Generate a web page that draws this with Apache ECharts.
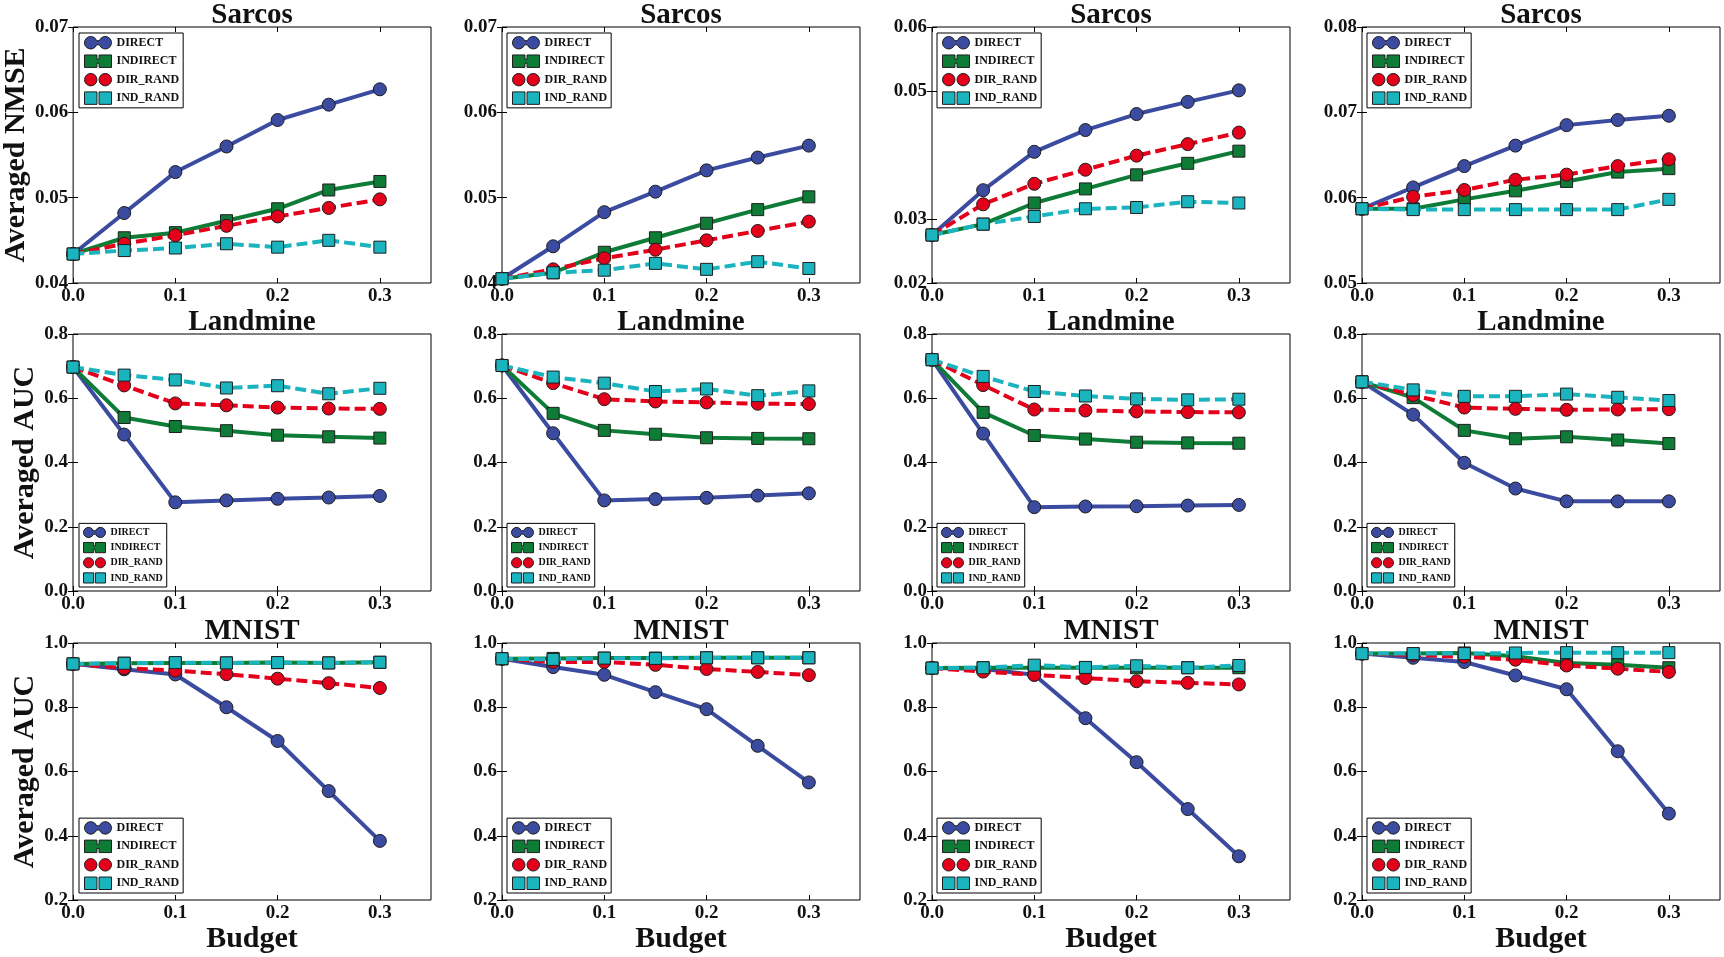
<!DOCTYPE html>
<html>
<head>
<meta charset="utf-8">
<script src="https://cdn.jsdelivr.net/npm/echarts@6/dist/echarts.min.js"></script>
<style>
html,body{margin:0;padding:0;background:#fff;}
#chart{width:1724px;height:957px;}
</style>
</head>
<body>
<div id="chart"></div>
<script>
// ---------------- data ----------------
const budget = [0, 0.05, 0.1, 0.15, 0.2, 0.25, 0.3];
const methods = ['DIRECT', 'INDIRECT', 'DIR_RAND', 'IND_RAND'];
const rowTitles = ['Sarcos', 'Landmine', 'MNIST'];
const rowYNames = ['Averaged NMSE', 'Averaged AUC', 'Averaged AUC'];
const xTicks = [0, 0.1, 0.2, 0.3];
const xTickLabels = ['0.0', '0.1', '0.2', '0.3'];

// y tick values per panel (row-major, 12 panels)
const yTicksSarcos1 = [0.04, 0.05, 0.06, 0.07];
const yTicksSarcos2 = [0.04, 0.05, 0.06, 0.07];
const yTicksSarcos3 = [0.02, 0.03, 0.05, 0.06];
const yTicksSarcos4 = [0.05, 0.06, 0.07, 0.08];
const yTicksLandmine = [0, 0.2, 0.4, 0.6, 0.8];
const yTicksMnist = [0.2, 0.4, 0.6, 0.8, 1.0];

// Sarcos (Averaged NMSE)
const sarcos1Direct   = [0.0434, 0.0482, 0.0530, 0.0560, 0.0591, 0.0609, 0.0627];
const sarcos1Indirect = [0.0434, 0.0453, 0.0459, 0.0473, 0.0487, 0.0509, 0.0519];
const sarcos1DirRand  = [0.0434, 0.0446, 0.0456, 0.0467, 0.0478, 0.0488, 0.0498];
const sarcos1IndRand  = [0.0434, 0.0438, 0.0441, 0.0446, 0.0442, 0.0450, 0.0442];

const sarcos2Direct   = [0.0405, 0.0443, 0.0483, 0.0507, 0.0532, 0.0547, 0.0561];
const sarcos2Indirect = [0.0405, 0.0412, 0.0436, 0.0453, 0.0470, 0.0486, 0.0501];
const sarcos2DirRand  = [0.0405, 0.0416, 0.0429, 0.0439, 0.0450, 0.0461, 0.0472];
const sarcos2IndRand  = [0.0405, 0.0412, 0.0415, 0.0423, 0.0416, 0.0425, 0.0417];

const sarcos3Direct   = [0.0275, 0.0345, 0.0405, 0.0439, 0.0464, 0.0483, 0.0501];
const sarcos3Indirect = [0.0275, 0.0292, 0.0325, 0.0347, 0.0369, 0.0387, 0.0406];
const sarcos3DirRand  = [0.0275, 0.0323, 0.0355, 0.0377, 0.0399, 0.0417, 0.0435];
const sarcos3IndRand  = [0.0275, 0.0292, 0.0304, 0.0316, 0.0318, 0.0327, 0.0325];

const sarcos4Direct   = [0.0587, 0.0612, 0.0637, 0.0661, 0.0685, 0.0691, 0.0696];
const sarcos4Indirect = [0.0587, 0.0587, 0.0598, 0.0608, 0.0619, 0.0630, 0.0634];
const sarcos4DirRand  = [0.0587, 0.0601, 0.0609, 0.0621, 0.0627, 0.0637, 0.0645];
const sarcos4IndRand  = [0.0587, 0.0586, 0.0586, 0.0586, 0.0586, 0.0586, 0.0598];

// Landmine (Averaged AUC)
const landmine1Direct   = [0.697, 0.487, 0.276, 0.282, 0.287, 0.291, 0.296];
const landmine1Indirect = [0.697, 0.540, 0.512, 0.499, 0.485, 0.480, 0.476];
const landmine1DirRand  = [0.697, 0.640, 0.584, 0.578, 0.571, 0.568, 0.567];
const landmine1IndRand  = [0.697, 0.672, 0.657, 0.632, 0.639, 0.614, 0.631];

const landmine2Direct   = [0.702, 0.491, 0.282, 0.286, 0.290, 0.297, 0.304];
const landmine2Indirect = [0.702, 0.553, 0.500, 0.488, 0.477, 0.475, 0.474];
const landmine2DirRand  = [0.702, 0.647, 0.597, 0.590, 0.587, 0.583, 0.582];
const landmine2IndRand  = [0.702, 0.666, 0.647, 0.621, 0.629, 0.608, 0.623];

const landmine3Direct   = [0.720, 0.490, 0.261, 0.263, 0.264, 0.266, 0.268];
const landmine3Indirect = [0.720, 0.556, 0.484, 0.473, 0.463, 0.461, 0.460];
const landmine3DirRand  = [0.720, 0.641, 0.565, 0.562, 0.559, 0.557, 0.556];
const landmine3IndRand  = [0.720, 0.668, 0.621, 0.607, 0.598, 0.595, 0.597];

const landmine4Direct   = [0.651, 0.549, 0.399, 0.319, 0.279, 0.279, 0.279];
const landmine4Indirect = [0.651, 0.602, 0.500, 0.474, 0.480, 0.470, 0.459];
const landmine4DirRand  = [0.651, 0.610, 0.571, 0.567, 0.564, 0.565, 0.566];
const landmine4IndRand  = [0.651, 0.626, 0.606, 0.606, 0.613, 0.603, 0.593];

// MNIST (Averaged AUC)
const mnist1Direct   = [0.935, 0.918, 0.902, 0.800, 0.695, 0.539, 0.384];
const mnist1Indirect = [0.935, 0.937, 0.938, 0.938, 0.939, 0.938, 0.940];
const mnist1DirRand  = [0.935, 0.922, 0.914, 0.903, 0.889, 0.875, 0.860];
const mnist1IndRand  = [0.935, 0.937, 0.939, 0.938, 0.939, 0.938, 0.940];

const mnist2Direct   = [0.951, 0.925, 0.901, 0.847, 0.794, 0.680, 0.566];
const mnist2Indirect = [0.951, 0.952, 0.953, 0.953, 0.954, 0.954, 0.954];
const mnist2DirRand  = [0.951, 0.941, 0.941, 0.932, 0.919, 0.910, 0.900];
const mnist2IndRand  = [0.951, 0.949, 0.953, 0.952, 0.954, 0.954, 0.954];

const mnist3Direct   = [0.922, 0.919, 0.901, 0.766, 0.629, 0.483, 0.336];
const mnist3Indirect = [0.922, 0.923, 0.923, 0.923, 0.923, 0.923, 0.923];
const mnist3DirRand  = [0.922, 0.911, 0.901, 0.891, 0.881, 0.876, 0.871];
const mnist3IndRand  = [0.922, 0.923, 0.931, 0.924, 0.929, 0.923, 0.930];

const mnist4Direct   = [0.967, 0.954, 0.941, 0.899, 0.856, 0.663, 0.469];
const mnist4Indirect = [0.967, 0.967, 0.969, 0.959, 0.938, 0.932, 0.923];
const mnist4DirRand  = [0.967, 0.963, 0.957, 0.948, 0.930, 0.920, 0.910];
const mnist4IndRand  = [0.967, 0.967, 0.967, 0.969, 0.970, 0.970, 0.970];

// ---------------- assembly ----------------
const panels = [
  {row:0, col:0, yTicks:yTicksSarcos1, dec:2, series:[sarcos1Direct, sarcos1Indirect, sarcos1DirRand, sarcos1IndRand]},
  {row:0, col:1, yTicks:yTicksSarcos2, dec:2, series:[sarcos2Direct, sarcos2Indirect, sarcos2DirRand, sarcos2IndRand]},
  {row:0, col:2, yTicks:yTicksSarcos3, dec:2, yMin:0.02, yMax:0.06, series:[sarcos3Direct, sarcos3Indirect, sarcos3DirRand, sarcos3IndRand]},
  {row:0, col:3, yTicks:yTicksSarcos4, dec:2, series:[sarcos4Direct, sarcos4Indirect, sarcos4DirRand, sarcos4IndRand]},
  {row:1, col:0, yTicks:yTicksLandmine, dec:1, series:[landmine1Direct, landmine1Indirect, landmine1DirRand, landmine1IndRand]},
  {row:1, col:1, yTicks:yTicksLandmine, dec:1, series:[landmine2Direct, landmine2Indirect, landmine2DirRand, landmine2IndRand]},
  {row:1, col:2, yTicks:yTicksLandmine, dec:1, series:[landmine3Direct, landmine3Indirect, landmine3DirRand, landmine3IndRand]},
  {row:1, col:3, yTicks:yTicksLandmine, dec:1, series:[landmine4Direct, landmine4Indirect, landmine4DirRand, landmine4IndRand]},
  {row:2, col:0, yTicks:yTicksMnist, dec:1, series:[mnist1Direct, mnist1Indirect, mnist1DirRand, mnist1IndRand]},
  {row:2, col:1, yTicks:yTicksMnist, dec:1, series:[mnist2Direct, mnist2Indirect, mnist2DirRand, mnist2IndRand]},
  {row:2, col:2, yTicks:yTicksMnist, dec:1, series:[mnist3Direct, mnist3Indirect, mnist3DirRand, mnist3IndRand]},
  {row:2, col:3, yTicks:yTicksMnist, dec:1, series:[mnist4Direct, mnist4Indirect, mnist4DirRand, mnist4IndRand]}
];

const colors = ['#3b4ba0', '#0e7c36', '#e4001b', '#1ab4bf'];
const SERIF = 'Liberation Serif';
const colLeft = [73, 502, 932, 1362];
const plotW = 358;
const rowTop = [25, 334, 643];
const rowH = [258, 257, 257];

// legend icons: two markers (joined for solid lines)
const iconCircleSolid = 'path://M12.157,4.5L14.843,4.5A6,6,0,1,1,14.843,8.5L12.157,8.5A6,6,0,1,1,12.157,4.5Z';
const iconRectSolid = 'path://M0.5,0.5H12.5V4.5H14.5V0.5H26.5V12.5H14.5V8.5H12.5V12.5H0.5Z';
const iconCircleDash = 'path://M0.5,6.5A6,6,0,1,1,12.5,6.5A6,6,0,1,1,0.5,6.5ZM14.5,6.5A6,6,0,1,1,26.5,6.5A6,6,0,1,1,14.5,6.5Z';
const iconRectDash = 'path://M0.5,0.5H12.5V12.5H0.5ZM14.5,0.5H26.5V12.5H14.5Z';
const icons = [iconCircleSolid, iconRectSolid, iconCircleDash, iconRectDash];

const grid = [], xAxis = [], yAxis = [], series = [], legend = [];
const labelFont = {fontFamily: SERIF, fontWeight: 'bold', fontSize: 19, color: '#111'};
const nameFont = {fontFamily: SERIF, fontWeight: 'bold', fontSize: 30, color: '#111'};
const tick = {show: true, inside: true, length: 5, lineStyle: {color: '#000', width: 1}};

panels.forEach((p, i) => {
  const left = colLeft[p.col], top = rowTop[p.row], h = rowH[p.row];
  grid.push({left: left, top: top, width: plotW, height: h, show: true,
    borderColor: '#000', borderWidth: 1, backgroundColor: '#fff'});
  const yMin = p.yMin !== undefined ? p.yMin : p.yTicks[0];
  const yMax = p.yMax !== undefined ? p.yMax : p.yTicks[p.yTicks.length - 1];
  // bottom x
  xAxis.push({gridIndex: i, type: 'value', position: 'bottom', min: 0, max: 0.35,
    axisLine: {show: false}, splitLine: {show: false},
    axisTick: Object.assign({customValues: xTicks}, tick),
    axisLabel: Object.assign({customValues: xTicks, margin: 4,
      formatter: v => xTickLabels[xTicks.findIndex(t => Math.abs(t - v) < 1e-9)] || ''}, labelFont),
    name: p.row === 2 ? 'Budget' : '', nameLocation: 'middle', nameGap: 24, nameTextStyle: nameFont});
  // top x (ticks + panel title)
  xAxis.push({gridIndex: i, type: 'value', position: 'top', min: 0, max: 0.35,
    axisLine: {show: false}, splitLine: {show: false},
    axisTick: Object.assign({customValues: xTicks}, tick),
    axisLabel: {show: false},
    name: rowTitles[p.row], nameLocation: 'middle', nameGap: -3,
    nameTextStyle: {fontFamily: SERIF, fontWeight: 'bold', fontSize: 29, color: '#111'}});
  // left y
  yAxis.push({gridIndex: i, type: 'value', position: 'left', min: yMin, max: yMax,
    axisLine: {show: false}, splitLine: {show: false},
    axisTick: Object.assign({customValues: p.yTicks}, tick),
    axisLabel: Object.assign({customValues: p.yTicks, margin: 5,
      formatter: v => v.toFixed(p.dec)}, labelFont),
    name: p.col === 0 ? rowYNames[p.row] : '', nameLocation: 'middle',
    nameGap: p.row === 0 ? 42 : 32, nameTextStyle: nameFont});
  // right y (ticks only)
  yAxis.push({gridIndex: i, type: 'value', position: 'right', min: yMin, max: yMax,
    axisLine: {show: false}, splitLine: {show: false},
    axisTick: Object.assign({customValues: p.yTicks}, tick),
    axisLabel: {show: false}});

  methods.forEach((m, k) => {
    const vals = p.series[k];
    series.push({
      type: 'line', name: m, xAxisIndex: 2 * i, yAxisIndex: 2 * i, z: 2 + k,
      data: budget.map((b, j) => [b, vals[j]]),
      symbol: k % 2 === 0 ? 'circle' : 'rect',
      symbolSize: k % 2 === 0 ? 13 : 12,
      showSymbol: true,
      lineStyle: {color: colors[k], width: 4, type: k < 2 ? 'solid' : [11, 5]},
      itemStyle: {color: colors[k], borderColor: '#1e1e1e', borderWidth: 1},
      emphasis: {disabled: true},
      silent: true
    });
  });

  const small = p.row === 1;
  const lg = {
    orient: 'vertical', align: 'left', selectedMode: false,
    left: left + (p.col === 0 ? 6 : 5),
    itemWidth: small ? 22 : 27, itemHeight: small ? 11 : 13,
    itemGap: small ? 4 : 5,
    padding: small ? [3.5, 4, 3.5, 4] : [3, 4, 3, 5],
    backgroundColor: '#fff', borderColor: '#000', borderWidth: 1, borderRadius: 0,
    itemStyle: {borderColor: '#1e1e1e', borderWidth: 1},
    textStyle: {fontFamily: SERIF, fontWeight: 'bold', fontSize: small ? 10 : 12, color: '#111'},
    data: methods.map((m, k) => ({name: m, icon: icons[k]}))
  };
  if (p.row === 0) lg.top = 33;
  else if (p.row === 1) lg.bottom = 957 - 587;
  else lg.bottom = 957 - 893;
  legend.push(lg);
});

const chart = echarts.init(document.getElementById('chart'), null, {renderer: 'canvas'});
chart.setOption({
  backgroundColor: '#fff',
  animation: false,
  grid: grid, xAxis: xAxis, yAxis: yAxis, series: series, legend: legend
});
</script>
</body>
</html>
